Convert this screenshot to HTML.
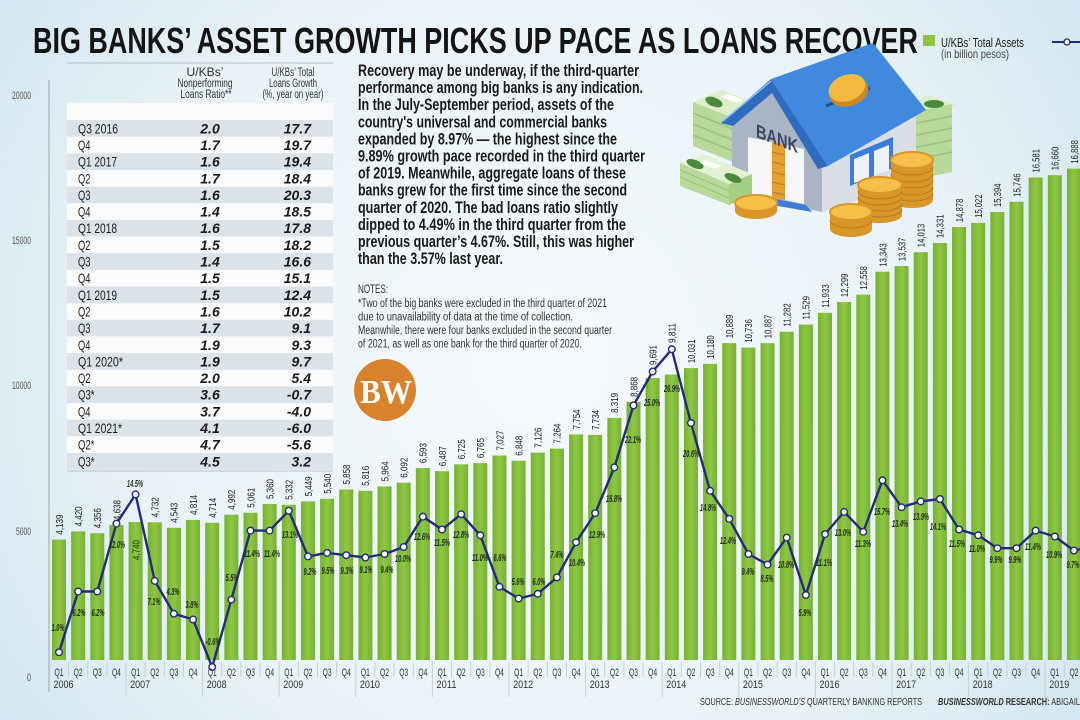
<!DOCTYPE html>
<html><head><meta charset="utf-8"><style>
html,body{margin:0;padding:0;background:#d4e7f2;}
svg{display:block;font-family:"Liberation Sans",Arial,sans-serif;}
</style></head><body>
<svg width="1080" height="720" viewBox="0 0 1080 720" xmlns="http://www.w3.org/2000/svg">
<defs>
<radialGradient id="bgG" cx="540" cy="360" r="760" gradientUnits="userSpaceOnUse">
<stop offset="0" stop-color="#f6fafc"/><stop offset="0.55" stop-color="#e8f2f8"/><stop offset="1" stop-color="#cbe1ee"/>
</radialGradient>
<linearGradient id="barG" x1="0" x2="1" y1="0" y2="0">
<stop offset="0" stop-color="#74b22f"/><stop offset="0.5" stop-color="#8fc744"/><stop offset="1" stop-color="#74b22f"/>
</linearGradient>
</defs>
<rect x="0" y="0" width="1080" height="720" fill="url(#bgG)"/>

<!-- y axis -->
<line x1="49" y1="80" x2="49" y2="692" stroke="#97a6b0" stroke-width="1"/>
<g font-size="11" fill="#555" text-anchor="end">
<text x="31" y="99" textLength="19" lengthAdjust="spacingAndGlyphs">20000</text>
<text x="31" y="244" textLength="19" lengthAdjust="spacingAndGlyphs">15000</text>
<text x="31" y="389" textLength="19" lengthAdjust="spacingAndGlyphs">10000</text>
<text x="31" y="535" textLength="15" lengthAdjust="spacingAndGlyphs">5000</text>
<text x="31" y="681" textLength="4" lengthAdjust="spacingAndGlyphs">0</text>
</g>

<!-- table -->
<line x1="67" y1="63" x2="333" y2="63" stroke="#b5c1ca" stroke-width="1"/>
<g font-size="11.5" fill="#333" text-anchor="middle">
<text x="205" y="76" textLength="37" lengthAdjust="spacingAndGlyphs">U/KBs’</text>
<text x="205" y="87" textLength="55" lengthAdjust="spacingAndGlyphs">Nonperforming</text>
<text x="206" y="98" textLength="51" lengthAdjust="spacingAndGlyphs">Loans Ratio**</text>
<text x="293" y="76" textLength="43" lengthAdjust="spacingAndGlyphs">U/KBs’ Total</text>
<text x="293" y="87" textLength="48" lengthAdjust="spacingAndGlyphs">Loans Growth</text>
<text x="293" y="98" textLength="61" lengthAdjust="spacingAndGlyphs">(%, year on year)</text>
</g>
<rect x="67" y="103" width="266" height="367" fill="#f9fbfc"/>
<g fill="#dbe2e8">
<rect x="67" y="120" width="266" height="16.65"/>
<rect x="67" y="153.3" width="266" height="16.65"/>
<rect x="67" y="186.6" width="266" height="16.65"/>
<rect x="67" y="219.9" width="266" height="16.65"/>
<rect x="67" y="253.2" width="266" height="16.65"/>
<rect x="67" y="286.5" width="266" height="16.65"/>
<rect x="67" y="319.8" width="266" height="16.65"/>
<rect x="67" y="353.1" width="266" height="16.65"/>
<rect x="67" y="386.4" width="266" height="16.65"/>
<rect x="67" y="419.7" width="266" height="16.65"/>
<rect x="67" y="453" width="266" height="16.65"/>
</g>
<line x1="67" y1="471" x2="333" y2="471" stroke="#b5c1ca" stroke-width="1"/>
<g font-size="14" fill="#1e1e1e">
<text x="78" y="133.3" textLength="40" lengthAdjust="spacingAndGlyphs">Q3 2016</text>
<text x="78" y="150" textLength="12.5" lengthAdjust="spacingAndGlyphs">Q4</text>
<text x="78" y="166.6" textLength="39" lengthAdjust="spacingAndGlyphs">Q1 2017</text>
<text x="78" y="183.3" textLength="12.5" lengthAdjust="spacingAndGlyphs">Q2</text>
<text x="78" y="199.9" textLength="12.5" lengthAdjust="spacingAndGlyphs">Q3</text>
<text x="78" y="216.6" textLength="12.5" lengthAdjust="spacingAndGlyphs">Q4</text>
<text x="78" y="233.2" textLength="39" lengthAdjust="spacingAndGlyphs">Q1 2018</text>
<text x="78" y="249.9" textLength="12.5" lengthAdjust="spacingAndGlyphs">Q2</text>
<text x="78" y="266.5" textLength="12.5" lengthAdjust="spacingAndGlyphs">Q3</text>
<text x="78" y="283.2" textLength="12.5" lengthAdjust="spacingAndGlyphs">Q4</text>
<text x="78" y="299.8" textLength="39" lengthAdjust="spacingAndGlyphs">Q1 2019</text>
<text x="78" y="316.5" textLength="12.5" lengthAdjust="spacingAndGlyphs">Q2</text>
<text x="78" y="333.1" textLength="12.5" lengthAdjust="spacingAndGlyphs">Q3</text>
<text x="78" y="349.8" textLength="12.5" lengthAdjust="spacingAndGlyphs">Q4</text>
<text x="78" y="366.4" textLength="45" lengthAdjust="spacingAndGlyphs">Q1 2020*</text>
<text x="78" y="383.1" textLength="12.5" lengthAdjust="spacingAndGlyphs">Q2</text>
<text x="78" y="399.7" textLength="16.5" lengthAdjust="spacingAndGlyphs">Q3*</text>
<text x="78" y="416.4" textLength="12.5" lengthAdjust="spacingAndGlyphs">Q4</text>
<text x="78" y="433" textLength="44" lengthAdjust="spacingAndGlyphs">Q1 2021*</text>
<text x="78" y="449.7" textLength="16.5" lengthAdjust="spacingAndGlyphs">Q2*</text>
<text x="78" y="466.3" textLength="16.5" lengthAdjust="spacingAndGlyphs">Q3*</text>
</g>
<g font-size="14" font-weight="bold" font-style="italic" fill="#1a1a1a" text-anchor="middle">
<text x="210" y="133.3">2.0</text><text x="210" y="150">1.7</text><text x="210" y="166.6">1.6</text>
<text x="210" y="183.3">1.7</text><text x="210" y="199.9">1.6</text><text x="210" y="216.6">1.4</text>
<text x="210" y="233.2">1.6</text><text x="210" y="249.9">1.5</text><text x="210" y="266.5">1.4</text>
<text x="210" y="283.2">1.5</text><text x="210" y="299.8">1.5</text><text x="210" y="316.5">1.6</text>
<text x="210" y="333.1">1.7</text><text x="210" y="349.8">1.9</text><text x="210" y="366.4">1.9</text>
<text x="210" y="383.1">2.0</text><text x="210" y="399.7">3.6</text><text x="210" y="416.4">3.7</text>
<text x="210" y="433">4.1</text><text x="210" y="449.7">4.7</text><text x="210" y="466.3">4.5</text>
</g>
<g font-size="14" font-weight="bold" font-style="italic" fill="#1a1a1a" text-anchor="end">
<text x="311" y="133.3">17.7</text><text x="311" y="150">19.7</text><text x="311" y="166.6">19.4</text>
<text x="311" y="183.3">18.4</text><text x="311" y="199.9">20.3</text><text x="311" y="216.6">18.5</text>
<text x="311" y="233.2">17.8</text><text x="311" y="249.9">18.2</text><text x="311" y="266.5">16.6</text>
<text x="311" y="283.2">15.1</text><text x="311" y="299.8">12.4</text><text x="311" y="316.5">10.2</text>
<text x="311" y="333.1">9.1</text><text x="311" y="349.8">9.3</text><text x="311" y="366.4">9.7</text>
<text x="311" y="383.1">5.4</text><text x="311" y="399.7">-0.7</text><text x="311" y="416.4">-4.0</text>
<text x="311" y="433">-6.0</text><text x="311" y="449.7">-5.6</text><text x="311" y="466.3">3.2</text>
</g>

<!-- paragraph -->
<g font-size="16.5" font-weight="bold" fill="#1a1a1a">
<text x="358" y="76" textLength="281" lengthAdjust="spacingAndGlyphs">Recovery may be underway, if the third-quarter</text>
<text x="358" y="93.1" textLength="285" lengthAdjust="spacingAndGlyphs">performance among big banks is any indication.</text>
<text x="358" y="110.2" textLength="256" lengthAdjust="spacingAndGlyphs">In the July-September period, assets of the</text>
<text x="358" y="127.3" textLength="249" lengthAdjust="spacingAndGlyphs">country's universal and commercial banks</text>
<text x="358" y="144.4" textLength="259" lengthAdjust="spacingAndGlyphs">expanded by 8.97% — the highest since the</text>
<text x="358" y="161.5" textLength="287" lengthAdjust="spacingAndGlyphs">9.89% growth pace recorded in the third quarter</text>
<text x="358" y="178.6" textLength="268" lengthAdjust="spacingAndGlyphs">of 2019. Meanwhile, aggregate loans of these</text>
<text x="358" y="195.7" textLength="269" lengthAdjust="spacingAndGlyphs">banks grew for the first time since the second</text>
<text x="358" y="212.8" textLength="260" lengthAdjust="spacingAndGlyphs">quarter of 2020. The bad loans ratio slightly</text>
<text x="358" y="229.9" textLength="268" lengthAdjust="spacingAndGlyphs">dipped to 4.49% in the third quarter from the</text>
<text x="358" y="247" textLength="276" lengthAdjust="spacingAndGlyphs">previous quarter’s 4.67%. Still, this was higher</text>
<text x="358" y="264.1" textLength="145" lengthAdjust="spacingAndGlyphs">than the 3.57% last year.</text>
</g>
<g fill="#333">
<text x="358" y="293" font-size="12" textLength="30" lengthAdjust="spacingAndGlyphs">NOTES:</text>
<text x="358" y="307" font-size="11.5" textLength="249" lengthAdjust="spacingAndGlyphs">*Two of the big banks were excluded in the third quarter of 2021</text>
<text x="358" y="320.5" font-size="11.5" textLength="215" lengthAdjust="spacingAndGlyphs">due to unavailability of data at the time of collection.</text>
<text x="358" y="334" font-size="11.5" textLength="254" lengthAdjust="spacingAndGlyphs">Meanwhile, there were four banks excluded in the second quarter</text>
<text x="358" y="347.5" font-size="11.5" textLength="224" lengthAdjust="spacingAndGlyphs">of 2021, as well as  one bank for the third quarter of 2020.</text>
</g>

<!-- BW logo -->
<circle cx="385" cy="390" r="31" fill="#d9822d"/>
<text x="386" y="403" font-family="'Liberation Serif',serif" font-weight="bold" font-size="34" fill="#fff" text-anchor="middle" textLength="52" lengthAdjust="spacingAndGlyphs">BW</text>

<!-- title -->
<text x="33" y="53" font-size="36" font-weight="bold" fill="#141414" textLength="885" lengthAdjust="spacingAndGlyphs">BIG BANKS’ ASSET GROWTH PICKS UP PACE AS LOANS RECOVER</text>

<!-- legend -->
<rect x="923" y="35" width="12" height="11" fill="#8cc63f"/>
<text x="941" y="47" font-size="13" fill="#222" textLength="83" lengthAdjust="spacingAndGlyphs">U/KBs’ Total Assets</text>
<text x="941" y="58" font-size="12" fill="#444" textLength="68" lengthAdjust="spacingAndGlyphs">(in billion pesos)</text>
<line x1="1052" y1="42" x2="1080" y2="42" stroke="#232b7c" stroke-width="2"/>
<circle cx="1067" cy="42" r="3" fill="#fff" stroke="#232b7c" stroke-width="1.3"/>

<!-- bank illustration -->
<g>
<polygon points="693,102 722,90 762,106 733,118" fill="#dcefc8"/>
<polygon points="693,102 733,118 733,162 693,146" fill="#b7d99a"/>
<path d="M693,113 L733,129 M693,124 L733,140 M693,135 L733,151" stroke="#98c47a" stroke-width="1.5"/>
<ellipse cx="714" cy="102" rx="9" ry="4.5" fill="#4b8a3d" transform="rotate(22 714 102)"/>
<polygon points="728,94 744,100 737,103 721,97" fill="#fff"/>
<polygon points="906,104 930,95 956,106 932,115" fill="#dcefc8"/>
<polygon points="913,112 952,104 952,172 913,180" fill="#b7d99a"/>
<path d="M913,124 L952,116 M913,136 L952,128 M913,148 L952,140 M913,160 L952,152" stroke="#98c47a" stroke-width="1.5"/>
<ellipse cx="934" cy="104" rx="10" ry="4" fill="#4b8a3d"/>
<polygon points="822,160 916,112 916,182 822,212" fill="#d9dee6"/>
<polygon points="732,120 773,88 822,160 822,212 732,193" fill="#a9b4c4"/>
<polygon points="748,137 772,142 772,198 748,193" fill="#f4f6f8"/>
<polygon points="785,145 804,149 804,204 785,200" fill="#f4f6f8"/>
<polygon points="772,142 785,145 785,200 772,198" fill="#e5a032"/>
<path d="M772,152 L785,155 M772,162 L785,165 M772,172 L785,175 M772,182 L785,185 M772,192 L785,195" stroke="#b97a1a" stroke-width="1"/>
<polygon points="744,193 806,205 812,212 750,201" fill="#3b7dd8"/>
<text transform="translate(756,137) skewY(21)" font-size="19" font-weight="bold" fill="#3a475e" textLength="42" lengthAdjust="spacingAndGlyphs">BANK</text>
<polygon points="850,155 893,137 893,168 850,186" fill="#3b7dd8"/>
<polygon points="854,159 869,153 869,178 854,183" fill="#eef2f6"/>
<polygon points="874,151 889,145 889,170 874,176" fill="#eef2f6"/>
<polygon points="771,79 873,43 926,110 828,166" fill="#4089dd"/>
<polygon points="721,123 771,79 828,166 818,169 772,93 733,126" fill="#2f6cc0"/>
<path d="M723,121 L771,81" stroke="#8fbdf0" stroke-width="1.5"/>
<path d="M826,106 L870,88" stroke="#1f4e8c" stroke-width="3"/>
<ellipse cx="849" cy="92" rx="20" ry="14" fill="#c98a22" transform="rotate(-20 849 92)"/>
<ellipse cx="847" cy="88" rx="19" ry="13" fill="#f4b943" transform="rotate(-20 847 88)"/>
<polygon points="680,163 703,154 752,174 729,184" fill="#e3f1d3"/>
<polygon points="680,163 729,184 729,205 680,186" fill="#b7d99a"/>
<polygon points="729,184 752,174 752,195 729,205" fill="#a6cf86"/>
<path d="M680,170 L729,191 M680,177 L729,198" stroke="#98c47a" stroke-width="1.2"/>
<ellipse cx="695" cy="164" rx="9" ry="4" fill="#4b8a3d" transform="rotate(22 695 164)"/>
<ellipse cx="733" cy="178" rx="9" ry="4" fill="#4b8a3d" transform="rotate(22 733 178)"/>
<polygon points="706,160 721,166 715,169 700,163" fill="#fff"/>
<!-- coin stacks -->
<path d="M891,160 V200 A21,8 0 0 0 933,200 V160 Z" fill="#d9962a"/>
<path d="M891,167 A21,8 0 0 0 933,167 M891,174 A21,8 0 0 0 933,174 M891,180 A21,8 0 0 0 933,180 M891,187 A21,8 0 0 0 933,187 M891,193 A21,8 0 0 0 933,193" stroke="#b97a1a" fill="none"/>
<ellipse cx="912" cy="160" rx="21" ry="8" fill="#f5bf48" stroke="#d9962a" stroke-width="2"/>
<path d="M858,185 V215 A22,8 0 0 0 902,215 V185 Z" fill="#d9962a"/>
<path d="M858,191 A22,8 0 0 0 902,191 M858,197 A22,8 0 0 0 902,197 M858,203 A22,8 0 0 0 902,203 M858,209 A22,8 0 0 0 902,209" stroke="#b97a1a" fill="none"/>
<ellipse cx="880" cy="185" rx="22" ry="8" fill="#f5bf48" stroke="#d9962a" stroke-width="2"/>
<path d="M830,212 V229 A21,8 0 0 0 872,229 V212 Z" fill="#d9962a"/>
<path d="M830,220 A21,8 0 0 0 872,220" stroke="#b97a1a" fill="none"/>
<ellipse cx="851" cy="212" rx="21" ry="8" fill="#f5bf48" stroke="#d9962a" stroke-width="2"/>
<path d="M735,203 V211 A21,8 0 0 0 777,211 V203 Z" fill="#d9962a"/>
<ellipse cx="756" cy="203" rx="21" ry="8" fill="#f5bf48" stroke="#d9962a" stroke-width="2"/>
</g>

<!-- bars -->
<g fill="url(#barG)">
<rect x="52" y="539.6" width="14" height="120.4"/>
<rect x="71.15" y="531.4" width="14" height="128.6"/>
<rect x="90.3" y="533.2" width="14" height="126.8"/>
<rect x="109.45" y="525" width="14" height="135"/>
<rect x="128.6" y="522.1" width="14" height="137.9"/>
<rect x="147.75" y="522.3" width="14" height="137.7"/>
<rect x="166.9" y="527.8" width="14" height="132.2"/>
<rect x="186.05" y="519.9" width="14" height="140.1"/>
<rect x="205.2" y="522.8" width="14" height="137.2"/>
<rect x="224.35" y="514.7" width="14" height="145.3"/>
<rect x="243.5" y="512.7" width="14" height="147.3"/>
<rect x="262.65" y="504" width="14" height="156"/>
<rect x="281.8" y="504.8" width="14" height="155.2"/>
<rect x="300.95" y="501.4" width="14" height="158.6"/>
<rect x="320.1" y="498.8" width="14" height="161.2"/>
<rect x="339.25" y="489.5" width="14" height="170.5"/>
<rect x="358.4" y="490.8" width="14" height="169.2"/>
<rect x="377.55" y="486.4" width="14" height="173.6"/>
<rect x="396.7" y="482.7" width="14" height="177.3"/>
<rect x="415.85" y="468.1" width="14" height="191.9"/>
<rect x="435" y="471.2" width="14" height="188.8"/>
<rect x="454.15" y="464.3" width="14" height="195.7"/>
<rect x="473.3" y="463.1" width="14" height="196.9"/>
<rect x="492.45" y="455.5" width="14" height="204.5"/>
<rect x="511.6" y="460.7" width="14" height="199.3"/>
<rect x="530.75" y="452.6" width="14" height="207.4"/>
<rect x="549.9" y="448.6" width="14" height="211.4"/>
<rect x="569.05" y="434.4" width="14" height="225.6"/>
<rect x="588.2" y="434.9" width="14" height="225.1"/>
<rect x="607.35" y="417.9" width="14" height="242.1"/>
<rect x="626.5" y="401.9" width="14" height="258.1"/>
<rect x="645.65" y="378" width="14" height="282"/>
<rect x="664.8" y="374.5" width="14" height="285.5"/>
<rect x="683.95" y="368.1" width="14" height="291.9"/>
<rect x="703.1" y="363.8" width="14" height="296.2"/>
<rect x="722.25" y="343.1" width="14" height="316.9"/>
<rect x="741.4" y="347.6" width="14" height="312.4"/>
<rect x="760.55" y="343.2" width="14" height="316.8"/>
<rect x="779.7" y="331.7" width="14" height="328.3"/>
<rect x="798.85" y="324.5" width="14" height="335.5"/>
<rect x="818" y="312.8" width="14" height="347.2"/>
<rect x="837.15" y="302.1" width="14" height="357.9"/>
<rect x="856.3" y="294.6" width="14" height="365.4"/>
<rect x="875.45" y="271.7" width="14" height="388.3"/>
<rect x="894.6" y="266.1" width="14" height="393.9"/>
<rect x="913.75" y="252.2" width="14" height="407.8"/>
<rect x="932.9" y="243" width="14" height="417"/>
<rect x="952.05" y="227.1" width="14" height="432.9"/>
<rect x="971.2" y="222.9" width="14" height="437.1"/>
<rect x="990.35" y="212" width="14" height="448"/>
<rect x="1009.5" y="201.8" width="14" height="458.2"/>
<rect x="1028.65" y="177.5" width="14" height="482.5"/>
<rect x="1047.8" y="175.2" width="14" height="484.8"/>
<rect x="1066.95" y="168.6" width="14" height="491.4"/>
</g>

<!-- bar value labels -->
<g font-size="10.5" fill="#222" lengthAdjust="spacingAndGlyphs">
<text transform="translate(62.8,534.6) rotate(-90)" textLength="20" lengthAdjust="spacingAndGlyphs">4,139</text>
<text transform="translate(81.95,526.4) rotate(-90)" textLength="20" lengthAdjust="spacingAndGlyphs">4,420</text>
<text transform="translate(101.1,528.2) rotate(-90)" textLength="20" lengthAdjust="spacingAndGlyphs">4,356</text>
<text transform="translate(120.25,520) rotate(-90)" textLength="20" lengthAdjust="spacingAndGlyphs">4,638</text>
<text transform="translate(139.4,560) rotate(-90)" textLength="20" lengthAdjust="spacingAndGlyphs" fill="#1a2a10">4,740</text>
<text transform="translate(158.55,517.3) rotate(-90)" textLength="20" lengthAdjust="spacingAndGlyphs">4,732</text>
<text transform="translate(177.7,522.8) rotate(-90)" textLength="20" lengthAdjust="spacingAndGlyphs">4,543</text>
<text transform="translate(196.85,514.9) rotate(-90)" textLength="20" lengthAdjust="spacingAndGlyphs">4,814</text>
<text transform="translate(216,517.8) rotate(-90)" textLength="20" lengthAdjust="spacingAndGlyphs">4,714</text>
<text transform="translate(235.15,509.7) rotate(-90)" textLength="20" lengthAdjust="spacingAndGlyphs">4,992</text>
<text transform="translate(254.3,507.7) rotate(-90)" textLength="20" lengthAdjust="spacingAndGlyphs">5,061</text>
<text transform="translate(273.45,499) rotate(-90)" textLength="20" lengthAdjust="spacingAndGlyphs">5,360</text>
<text transform="translate(292.6,499.8) rotate(-90)" textLength="20" lengthAdjust="spacingAndGlyphs">5,332</text>
<text transform="translate(311.75,496.4) rotate(-90)" textLength="20" lengthAdjust="spacingAndGlyphs">5,449</text>
<text transform="translate(330.9,493.8) rotate(-90)" textLength="20" lengthAdjust="spacingAndGlyphs">5,540</text>
<text transform="translate(350.05,484.5) rotate(-90)" textLength="20" lengthAdjust="spacingAndGlyphs">5,858</text>
<text transform="translate(369.2,485.8) rotate(-90)" textLength="20" lengthAdjust="spacingAndGlyphs">5,816</text>
<text transform="translate(388.35,481.4) rotate(-90)" textLength="20" lengthAdjust="spacingAndGlyphs">5,964</text>
<text transform="translate(407.5,477.7) rotate(-90)" textLength="20" lengthAdjust="spacingAndGlyphs">6,092</text>
<text transform="translate(426.65,463.1) rotate(-90)" textLength="20" lengthAdjust="spacingAndGlyphs">6,593</text>
<text transform="translate(445.8,466.2) rotate(-90)" textLength="20" lengthAdjust="spacingAndGlyphs">6,487</text>
<text transform="translate(464.95,459.3) rotate(-90)" textLength="20" lengthAdjust="spacingAndGlyphs">6,725</text>
<text transform="translate(484.1,458.1) rotate(-90)" textLength="20" lengthAdjust="spacingAndGlyphs">6,765</text>
<text transform="translate(503.25,450.5) rotate(-90)" textLength="20" lengthAdjust="spacingAndGlyphs">7,027</text>
<text transform="translate(522.4,455.7) rotate(-90)" textLength="20" lengthAdjust="spacingAndGlyphs">6,848</text>
<text transform="translate(541.55,447.6) rotate(-90)" textLength="20" lengthAdjust="spacingAndGlyphs">7,126</text>
<text transform="translate(560.7,443.6) rotate(-90)" textLength="20" lengthAdjust="spacingAndGlyphs">7,264</text>
<text transform="translate(579.85,429.4) rotate(-90)" textLength="20" lengthAdjust="spacingAndGlyphs">7,754</text>
<text transform="translate(599,429.9) rotate(-90)" textLength="20" lengthAdjust="spacingAndGlyphs">7,734</text>
<text transform="translate(618.15,412.9) rotate(-90)" textLength="20" lengthAdjust="spacingAndGlyphs">8,319</text>
<text transform="translate(637.3,396.9) rotate(-90)" textLength="20" lengthAdjust="spacingAndGlyphs">8,868</text>
<text transform="translate(656.45,365) rotate(-90)" textLength="20" lengthAdjust="spacingAndGlyphs">9,691</text>
<text transform="translate(675.6,343) rotate(-90)" textLength="20" lengthAdjust="spacingAndGlyphs">9,811</text>
<text transform="translate(694.75,363.1) rotate(-90)" textLength="23.5" lengthAdjust="spacingAndGlyphs">10,031</text>
<text transform="translate(713.9,358.8) rotate(-90)" textLength="23.5" lengthAdjust="spacingAndGlyphs">10,180</text>
<text transform="translate(733.05,338.1) rotate(-90)" textLength="23.5" lengthAdjust="spacingAndGlyphs">10,889</text>
<text transform="translate(752.2,342.6) rotate(-90)" textLength="23.5" lengthAdjust="spacingAndGlyphs">10,736</text>
<text transform="translate(771.35,338.2) rotate(-90)" textLength="23.5" lengthAdjust="spacingAndGlyphs">10,887</text>
<text transform="translate(790.5,326.7) rotate(-90)" textLength="23.5" lengthAdjust="spacingAndGlyphs">11,282</text>
<text transform="translate(809.65,319.5) rotate(-90)" textLength="23.5" lengthAdjust="spacingAndGlyphs">11,529</text>
<text transform="translate(828.8,307.8) rotate(-90)" textLength="23.5" lengthAdjust="spacingAndGlyphs">11,933</text>
<text transform="translate(847.95,297.1) rotate(-90)" textLength="23.5" lengthAdjust="spacingAndGlyphs">12,299</text>
<text transform="translate(867.1,289.6) rotate(-90)" textLength="23.5" lengthAdjust="spacingAndGlyphs">12,558</text>
<text transform="translate(886.25,266.7) rotate(-90)" textLength="23.5" lengthAdjust="spacingAndGlyphs">13,343</text>
<text transform="translate(905.4,261.1) rotate(-90)" textLength="23.5" lengthAdjust="spacingAndGlyphs">13,537</text>
<text transform="translate(924.55,247.2) rotate(-90)" textLength="23.5" lengthAdjust="spacingAndGlyphs">14,013</text>
<text transform="translate(943.7,238) rotate(-90)" textLength="23.5" lengthAdjust="spacingAndGlyphs">14,331</text>
<text transform="translate(962.85,222.1) rotate(-90)" textLength="23.5" lengthAdjust="spacingAndGlyphs">14,878</text>
<text transform="translate(982,217.9) rotate(-90)" textLength="23.5" lengthAdjust="spacingAndGlyphs">15,022</text>
<text transform="translate(1001.15,207) rotate(-90)" textLength="23.5" lengthAdjust="spacingAndGlyphs">15,394</text>
<text transform="translate(1020.3,196.8) rotate(-90)" textLength="23.5" lengthAdjust="spacingAndGlyphs">15,746</text>
<text transform="translate(1039.45,172.5) rotate(-90)" textLength="23.5" lengthAdjust="spacingAndGlyphs">16,581</text>
<text transform="translate(1058.6,170.2) rotate(-90)" textLength="23.5" lengthAdjust="spacingAndGlyphs">16,660</text>
<text transform="translate(1077.75,163.6) rotate(-90)" textLength="23.5" lengthAdjust="spacingAndGlyphs">16,888</text>
</g>

<!-- line -->
<polyline fill="none" stroke="#232b7c" stroke-width="2.4" stroke-linejoin="round" points="59,652.3 78.15,591.5 97.3,591.5 116.45,523.6 135.6,494.4 154.75,580.9 173.9,613.7 193.05,619.5 212.2,667 231.35,599.7 250.5,530.6 269.65,530.6 288.8,510.7 307.95,556.4 327.1,552.9 346.25,555.2 365.4,557.5 384.55,554 403.7,547 422.85,516.6 442,529.5 461.15,514.2 480.3,535.3 499.45,586.8 518.6,598.5 537.75,593.8 556.9,577.4 576.05,542.3 595.2,513.1 614.35,467.4 633.5,405.4 652.65,371.5 671.8,349.3 690.95,423 710.1,490.8 729.25,518.9 748.4,554 767.55,564.6 786.7,537.6 805.85,595 825,534.1 844.15,511.9 863.3,531.8 882.45,480.3 901.6,507.2 920.75,501.4 939.9,499 959.05,529.5 978.2,535.3 997.35,548.2 1016.5,548.2 1035.65,530.6 1054.8,536.5 1073.95,550.5 1082,549"/>
<g fill="#fff" stroke="#232b7c" stroke-width="1.4">
<circle cx="59" cy="652.3" r="3.3"/><circle cx="78.15" cy="591.5" r="3.3"/><circle cx="97.3" cy="591.5" r="3.3"/><circle cx="116.45" cy="523.6" r="3.3"/>
<circle cx="135.6" cy="494.4" r="3.3"/><circle cx="154.75" cy="580.9" r="3.3"/><circle cx="173.9" cy="613.7" r="3.3"/><circle cx="193.05" cy="619.5" r="3.3"/>
<circle cx="212.2" cy="667" r="3.3"/><circle cx="231.35" cy="599.7" r="3.3"/><circle cx="250.5" cy="530.6" r="3.3"/><circle cx="269.65" cy="530.6" r="3.3"/>
<circle cx="288.8" cy="510.7" r="3.3"/><circle cx="307.95" cy="556.4" r="3.3"/><circle cx="327.1" cy="552.9" r="3.3"/><circle cx="346.25" cy="555.2" r="3.3"/>
<circle cx="365.4" cy="557.5" r="3.3"/><circle cx="384.55" cy="554" r="3.3"/><circle cx="403.7" cy="547" r="3.3"/><circle cx="422.85" cy="516.6" r="3.3"/>
<circle cx="442" cy="529.5" r="3.3"/><circle cx="461.15" cy="514.2" r="3.3"/><circle cx="480.3" cy="535.3" r="3.3"/><circle cx="499.45" cy="586.8" r="3.3"/>
<circle cx="518.6" cy="598.5" r="3.3"/><circle cx="537.75" cy="593.8" r="3.3"/><circle cx="556.9" cy="577.4" r="3.3"/><circle cx="576.05" cy="542.3" r="3.3"/>
<circle cx="595.2" cy="513.1" r="3.3"/><circle cx="614.35" cy="467.4" r="3.3"/><circle cx="633.5" cy="405.4" r="3.3"/><circle cx="652.65" cy="371.5" r="3.3"/>
<circle cx="671.8" cy="349.3" r="3.3"/><circle cx="690.95" cy="423" r="3.3"/><circle cx="710.1" cy="490.8" r="3.3"/><circle cx="729.25" cy="518.9" r="3.3"/>
<circle cx="748.4" cy="554" r="3.3"/><circle cx="767.55" cy="564.6" r="3.3"/><circle cx="786.7" cy="537.6" r="3.3"/><circle cx="805.85" cy="595" r="3.3"/>
<circle cx="825" cy="534.1" r="3.3"/><circle cx="844.15" cy="511.9" r="3.3"/><circle cx="863.3" cy="531.8" r="3.3"/><circle cx="882.45" cy="480.3" r="3.3"/>
<circle cx="901.6" cy="507.2" r="3.3"/><circle cx="920.75" cy="501.4" r="3.3"/><circle cx="939.9" cy="499" r="3.3"/><circle cx="959.05" cy="529.5" r="3.3"/>
<circle cx="978.2" cy="535.3" r="3.3"/><circle cx="997.35" cy="548.2" r="3.3"/><circle cx="1016.5" cy="548.2" r="3.3"/><circle cx="1035.65" cy="530.6" r="3.3"/>
<circle cx="1054.8" cy="536.5" r="3.3"/><circle cx="1073.95" cy="550.5" r="3.3"/>
</g>

<!-- percent labels -->
<g font-size="10.5" font-weight="bold" font-style="italic" fill="#1e2b14" text-anchor="middle">
<text x="58" y="630.8" textLength="13" lengthAdjust="spacingAndGlyphs">1.0%</text>
<text x="79" y="615.8" textLength="13" lengthAdjust="spacingAndGlyphs">6.2%</text>
<text x="98" y="615.8" textLength="13" lengthAdjust="spacingAndGlyphs">6.2%</text>
<text x="117" y="547.8" textLength="16" lengthAdjust="spacingAndGlyphs">12.0%</text>
<text x="135" y="486.8" textLength="16" lengthAdjust="spacingAndGlyphs">14.5%</text>
<text x="154" y="604.8" textLength="13" lengthAdjust="spacingAndGlyphs">7.1%</text>
<text x="173" y="594.8" textLength="13" lengthAdjust="spacingAndGlyphs">4.3%</text>
<text x="192" y="607.8" textLength="13" lengthAdjust="spacingAndGlyphs">3.8%</text>
<text x="213" y="644.8" textLength="15" lengthAdjust="spacingAndGlyphs">-0.6%</text>
<text x="232" y="580.8" textLength="13" lengthAdjust="spacingAndGlyphs">5.5%</text>
<text x="252" y="556.8" textLength="16" lengthAdjust="spacingAndGlyphs">11.4%</text>
<text x="272" y="556.8" textLength="16" lengthAdjust="spacingAndGlyphs">11.4%</text>
<text x="290" y="537.8" textLength="16" lengthAdjust="spacingAndGlyphs">13.1%</text>
<text x="310" y="574.8" textLength="13" lengthAdjust="spacingAndGlyphs">9.2%</text>
<text x="328" y="573.8" textLength="13" lengthAdjust="spacingAndGlyphs">9.5%</text>
<text x="347" y="573.8" textLength="13" lengthAdjust="spacingAndGlyphs">9.3%</text>
<text x="366" y="572.8" textLength="13" lengthAdjust="spacingAndGlyphs">9.1%</text>
<text x="387" y="572.8" textLength="13" lengthAdjust="spacingAndGlyphs">9.4%</text>
<text x="403" y="561.8" textLength="16" lengthAdjust="spacingAndGlyphs">10.0%</text>
<text x="422" y="539.8" textLength="16" lengthAdjust="spacingAndGlyphs">12.6%</text>
<text x="442" y="545.8" textLength="16" lengthAdjust="spacingAndGlyphs">11.5%</text>
<text x="461" y="537.8" textLength="16" lengthAdjust="spacingAndGlyphs">12.8%</text>
<text x="480" y="560.8" textLength="16" lengthAdjust="spacingAndGlyphs">11.0%</text>
<text x="500" y="560.8" textLength="13" lengthAdjust="spacingAndGlyphs">6.6%</text>
<text x="518" y="584.8" textLength="13" lengthAdjust="spacingAndGlyphs">5.6%</text>
<text x="539" y="584.8" textLength="13" lengthAdjust="spacingAndGlyphs">6.0%</text>
<text x="557" y="557.8" textLength="13" lengthAdjust="spacingAndGlyphs">7.4%</text>
<text x="577" y="565.8" textLength="16" lengthAdjust="spacingAndGlyphs">10.4%</text>
<text x="597" y="537.8" textLength="16" lengthAdjust="spacingAndGlyphs">12.9%</text>
<text x="614" y="501.8" textLength="16" lengthAdjust="spacingAndGlyphs">16.8%</text>
<text x="633" y="442.8" textLength="16" lengthAdjust="spacingAndGlyphs">22.1%</text>
<text x="652" y="405.8" textLength="16" lengthAdjust="spacingAndGlyphs">25.0%</text>
<text x="672" y="391.8" textLength="16" lengthAdjust="spacingAndGlyphs">26.9%</text>
<text x="691" y="456.8" textLength="16" lengthAdjust="spacingAndGlyphs">20.6%</text>
<text x="708" y="510.8" textLength="16" lengthAdjust="spacingAndGlyphs">14.8%</text>
<text x="728" y="543.8" textLength="16" lengthAdjust="spacingAndGlyphs">12.4%</text>
<text x="748" y="574.8" textLength="13" lengthAdjust="spacingAndGlyphs">9.4%</text>
<text x="767" y="581.8" textLength="13" lengthAdjust="spacingAndGlyphs">8.5%</text>
<text x="786" y="567.8" textLength="16" lengthAdjust="spacingAndGlyphs">10.8%</text>
<text x="805" y="615.8" textLength="13" lengthAdjust="spacingAndGlyphs">5.9%</text>
<text x="824" y="565.8" textLength="16" lengthAdjust="spacingAndGlyphs">11.1%</text>
<text x="843" y="535.8" textLength="16" lengthAdjust="spacingAndGlyphs">13.0%</text>
<text x="863" y="546.8" textLength="16" lengthAdjust="spacingAndGlyphs">11.3%</text>
<text x="882" y="514.8" textLength="16" lengthAdjust="spacingAndGlyphs">15.7%</text>
<text x="900" y="526.8" textLength="16" lengthAdjust="spacingAndGlyphs">13.4%</text>
<text x="921" y="519.8" textLength="16" lengthAdjust="spacingAndGlyphs">13.9%</text>
<text x="938" y="529.8" textLength="16" lengthAdjust="spacingAndGlyphs">14.1%</text>
<text x="957" y="546.8" textLength="16" lengthAdjust="spacingAndGlyphs">11.5%</text>
<text x="977" y="551.8" textLength="16" lengthAdjust="spacingAndGlyphs">11.0%</text>
<text x="996" y="562.8" textLength="13" lengthAdjust="spacingAndGlyphs">9.9%</text>
<text x="1015" y="562.8" textLength="13" lengthAdjust="spacingAndGlyphs">9.9%</text>
<text x="1033" y="549.8" textLength="16" lengthAdjust="spacingAndGlyphs">11.4%</text>
<text x="1054" y="557.8" textLength="16" lengthAdjust="spacingAndGlyphs">10.9%</text>
<text x="1073" y="567.8" textLength="13" lengthAdjust="spacingAndGlyphs">9.7%</text>
</g>

<!-- x axis separators -->
<path fill="none" stroke="#c3d0d9" stroke-width="1" d="M68.55,662V677 M87.7,662V677 M106.85,662V677 M145.15,662V677 M164.3,662V677 M183.45,662V677 M221.75,662V677 M240.9,662V677 M260.05,662V677 M298.35,662V677 M317.5,662V677 M336.65,662V677 M374.95,662V677 M394.1,662V677 M413.25,662V677 M451.55,662V677 M470.7,662V677 M489.85,662V677 M528.15,662V677 M547.3,662V677 M566.45,662V677 M604.75,662V677 M623.9,662V677 M643.05,662V677 M681.35,662V677 M700.5,662V677 M719.65,662V677 M757.95,662V677 M777.1,662V677 M796.25,662V677 M834.55,662V677 M853.7,662V677 M872.85,662V677 M911.15,662V677 M930.3,662V677 M949.45,662V677 M987.75,662V677 M1006.9,662V677 M1026.05,662V677 M1064.35,662V677"/>
<path fill="none" stroke="#c3d0d9" stroke-width="1" d="M126,662V697 M202.6,662V697 M279.2,662V697 M355.8,662V697 M432.4,662V697 M509,662V697 M585.6,662V697 M662.2,662V697 M738.8,662V697 M815.4,662V697 M892,662V697 M968.6,662V697 M1045.2,662V697"/>

<!-- x axis labels -->
<g font-size="11" fill="#333" text-anchor="middle">
<text x="59" y="676" textLength="9" lengthAdjust="spacingAndGlyphs">Q1</text><text x="78.15" y="676" textLength="9" lengthAdjust="spacingAndGlyphs">Q2</text><text x="97.3" y="676" textLength="9" lengthAdjust="spacingAndGlyphs">Q3</text><text x="116.45" y="676" textLength="9" lengthAdjust="spacingAndGlyphs">Q4</text>
<text x="135.6" y="676" textLength="9" lengthAdjust="spacingAndGlyphs">Q1</text><text x="154.75" y="676" textLength="9" lengthAdjust="spacingAndGlyphs">Q2</text><text x="173.9" y="676" textLength="9" lengthAdjust="spacingAndGlyphs">Q3</text><text x="193.05" y="676" textLength="9" lengthAdjust="spacingAndGlyphs">Q4</text>
<text x="212.2" y="676" textLength="9" lengthAdjust="spacingAndGlyphs">Q1</text><text x="231.35" y="676" textLength="9" lengthAdjust="spacingAndGlyphs">Q2</text><text x="250.5" y="676" textLength="9" lengthAdjust="spacingAndGlyphs">Q3</text><text x="269.65" y="676" textLength="9" lengthAdjust="spacingAndGlyphs">Q4</text>
<text x="288.8" y="676" textLength="9" lengthAdjust="spacingAndGlyphs">Q1</text><text x="307.95" y="676" textLength="9" lengthAdjust="spacingAndGlyphs">Q2</text><text x="327.1" y="676" textLength="9" lengthAdjust="spacingAndGlyphs">Q3</text><text x="346.25" y="676" textLength="9" lengthAdjust="spacingAndGlyphs">Q4</text>
<text x="365.4" y="676" textLength="9" lengthAdjust="spacingAndGlyphs">Q1</text><text x="384.55" y="676" textLength="9" lengthAdjust="spacingAndGlyphs">Q2</text><text x="403.7" y="676" textLength="9" lengthAdjust="spacingAndGlyphs">Q3</text><text x="422.85" y="676" textLength="9" lengthAdjust="spacingAndGlyphs">Q4</text>
<text x="442" y="676" textLength="9" lengthAdjust="spacingAndGlyphs">Q1</text><text x="461.15" y="676" textLength="9" lengthAdjust="spacingAndGlyphs">Q2</text><text x="480.3" y="676" textLength="9" lengthAdjust="spacingAndGlyphs">Q3</text><text x="499.45" y="676" textLength="9" lengthAdjust="spacingAndGlyphs">Q4</text>
<text x="518.6" y="676" textLength="9" lengthAdjust="spacingAndGlyphs">Q1</text><text x="537.75" y="676" textLength="9" lengthAdjust="spacingAndGlyphs">Q2</text><text x="556.9" y="676" textLength="9" lengthAdjust="spacingAndGlyphs">Q3</text><text x="576.05" y="676" textLength="9" lengthAdjust="spacingAndGlyphs">Q4</text>
<text x="595.2" y="676" textLength="9" lengthAdjust="spacingAndGlyphs">Q1</text><text x="614.35" y="676" textLength="9" lengthAdjust="spacingAndGlyphs">Q2</text><text x="633.5" y="676" textLength="9" lengthAdjust="spacingAndGlyphs">Q3</text><text x="652.65" y="676" textLength="9" lengthAdjust="spacingAndGlyphs">Q4</text>
<text x="671.8" y="676" textLength="9" lengthAdjust="spacingAndGlyphs">Q1</text><text x="690.95" y="676" textLength="9" lengthAdjust="spacingAndGlyphs">Q2</text><text x="710.1" y="676" textLength="9" lengthAdjust="spacingAndGlyphs">Q3</text><text x="729.25" y="676" textLength="9" lengthAdjust="spacingAndGlyphs">Q4</text>
<text x="748.4" y="676" textLength="9" lengthAdjust="spacingAndGlyphs">Q1</text><text x="767.55" y="676" textLength="9" lengthAdjust="spacingAndGlyphs">Q2</text><text x="786.7" y="676" textLength="9" lengthAdjust="spacingAndGlyphs">Q3</text><text x="805.85" y="676" textLength="9" lengthAdjust="spacingAndGlyphs">Q4</text>
<text x="825" y="676" textLength="9" lengthAdjust="spacingAndGlyphs">Q1</text><text x="844.15" y="676" textLength="9" lengthAdjust="spacingAndGlyphs">Q2</text><text x="863.3" y="676" textLength="9" lengthAdjust="spacingAndGlyphs">Q3</text><text x="882.45" y="676" textLength="9" lengthAdjust="spacingAndGlyphs">Q4</text>
<text x="901.6" y="676" textLength="9" lengthAdjust="spacingAndGlyphs">Q1</text><text x="920.75" y="676" textLength="9" lengthAdjust="spacingAndGlyphs">Q2</text><text x="939.9" y="676" textLength="9" lengthAdjust="spacingAndGlyphs">Q3</text><text x="959.05" y="676" textLength="9" lengthAdjust="spacingAndGlyphs">Q4</text>
<text x="978.2" y="676" textLength="9" lengthAdjust="spacingAndGlyphs">Q1</text><text x="997.35" y="676" textLength="9" lengthAdjust="spacingAndGlyphs">Q2</text><text x="1016.5" y="676" textLength="9" lengthAdjust="spacingAndGlyphs">Q3</text><text x="1035.65" y="676" textLength="9" lengthAdjust="spacingAndGlyphs">Q4</text>
<text x="1054.8" y="676" textLength="9" lengthAdjust="spacingAndGlyphs">Q1</text><text x="1073.95" y="676" textLength="9" lengthAdjust="spacingAndGlyphs">Q2</text>
</g>
<g font-size="11" fill="#333">
<text x="53.5" y="688" textLength="20" lengthAdjust="spacingAndGlyphs">2006</text>
<text x="130.1" y="688" textLength="20" lengthAdjust="spacingAndGlyphs">2007</text>
<text x="206.7" y="688" textLength="20" lengthAdjust="spacingAndGlyphs">2008</text>
<text x="283.3" y="688" textLength="20" lengthAdjust="spacingAndGlyphs">2009</text>
<text x="359.9" y="688" textLength="20" lengthAdjust="spacingAndGlyphs">2010</text>
<text x="436.5" y="688" textLength="20" lengthAdjust="spacingAndGlyphs">2011</text>
<text x="513.1" y="688" textLength="20" lengthAdjust="spacingAndGlyphs">2012</text>
<text x="589.7" y="688" textLength="20" lengthAdjust="spacingAndGlyphs">2013</text>
<text x="666.3" y="688" textLength="20" lengthAdjust="spacingAndGlyphs">2014</text>
<text x="742.9" y="688" textLength="20" lengthAdjust="spacingAndGlyphs">2015</text>
<text x="819.5" y="688" textLength="20" lengthAdjust="spacingAndGlyphs">2016</text>
<text x="896.1" y="688" textLength="20" lengthAdjust="spacingAndGlyphs">2017</text>
<text x="972.7" y="688" textLength="20" lengthAdjust="spacingAndGlyphs">2018</text>
<text x="1049.3" y="688" textLength="20" lengthAdjust="spacingAndGlyphs">2019</text>
</g>

<!-- footer -->
<text x="700" y="705" font-size="10.5" fill="#333" textLength="222" lengthAdjust="spacingAndGlyphs">SOURCE: <tspan font-style="italic">BUSINESSWORLD’S</tspan> QUARTERLY BANKING REPORTS</text>
<text x="938" y="705" font-size="10.5" fill="#333" textLength="142" lengthAdjust="spacingAndGlyphs"><tspan font-weight="bold" font-style="italic">BUSINESSWORLD</tspan><tspan font-weight="bold"> RESEARCH:</tspan> ABIGAIL</text>
</svg>
</body></html>
